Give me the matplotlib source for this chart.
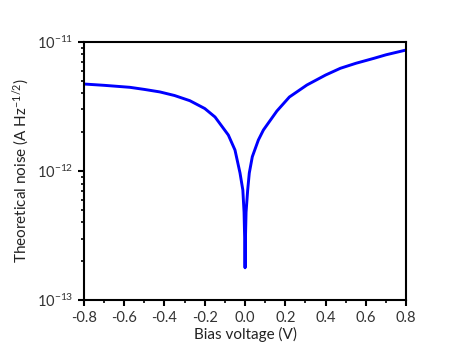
import matplotlib
matplotlib.use("Agg")
import matplotlib.pyplot as plt
from matplotlib.ticker import MultipleLocator, LogLocator, FixedLocator, FixedFormatter, NullFormatter

bias_v = [-0.8, -0.7, -0.572, -0.5, -0.423, -0.35, -0.274, -0.2, -0.149, -0.083,
          -0.05, -0.025, -0.011, -0.005, -0.002, 0.0, 0.002, 0.005, 0.013,
          0.021, 0.036, 0.066, 0.091, 0.158, 0.22, 0.307, 0.4, 0.473, 0.55,
          0.64, 0.7, 0.8]
noise = [4.725e-12, 4.616e-12, 4.455e-12, 4.291e-12, 4.103e-12, 3.848e-12,
         3.508e-12, 3.051e-12, 2.622e-12, 1.901e-12, 1.455e-12, 9.65e-13,
         7.12e-13, 4.8e-13, 3.04e-13, 1.78e-13, 3.04e-13, 4.8e-13, 7.12e-13,
         9.65e-13, 1.291e-12, 1.739e-12, 2.079e-12, 2.918e-12, 3.747e-12,
         4.642e-12, 5.548e-12, 6.254e-12, 6.838e-12, 7.475e-12, 7.96e-12,
         8.67e-12]
x_ticks = [-0.8, -0.6, -0.4, -0.2, 0.0, 0.2, 0.4, 0.6, 0.8]
x_ticklabels = ["-0.8", "-0.6", "-0.4", "-0.2", "0.0", "0.2", "0.4", "0.6", "0.8"]
y_ticks = [1e-13, 1e-12, 1e-11]
y_ticklabels = ["$10^{-13}$", "$10^{-12}$", "$10^{-11}$"]

plt.rcParams['font.family'] = ['Lato', 'DejaVu Sans']
plt.rcParams['mathtext.default'] = 'regular'

fig = plt.figure(figsize=(4.74, 3.62), dpi=100)
ax = fig.add_axes([0.177, 0.171, 0.680, 0.713])
ax.plot(bias_v, noise, color='#0000ff', lw=2.1, solid_joinstyle='round')
ax.set_yscale('log')
ax.set_xlim(-0.8, 0.8)
ax.set_ylim(1e-13, 1e-11)

ax.xaxis.set_major_locator(FixedLocator(x_ticks))
ax.xaxis.set_major_formatter(FixedFormatter(x_ticklabels))
ax.xaxis.set_minor_locator(MultipleLocator(0.1))
ax.yaxis.set_major_locator(FixedLocator(y_ticks))
ax.yaxis.set_major_formatter(FixedFormatter(y_ticklabels))
ax.yaxis.set_minor_locator(LogLocator(base=10, subs=range(2, 10)))
ax.yaxis.set_minor_formatter(NullFormatter())

for s in ax.spines.values():
    s.set_linewidth(1.5)
ax.tick_params(which='major', direction='out', length=4, width=1.5, labelsize=10.5, colors='black')
ax.tick_params(which='minor', direction='out', length=2.5, width=1.2)
ax.tick_params(axis='both', labelcolor='#333333')

ax.set_xlabel('Bias voltage (V)', fontsize=11, color='#222222', labelpad=2)
ax.set_ylabel('Theoretical noise (A Hz$^{-1/2}$)', fontsize=11, color='#222222', labelpad=4)

fig.savefig('out.png', dpi=100)
